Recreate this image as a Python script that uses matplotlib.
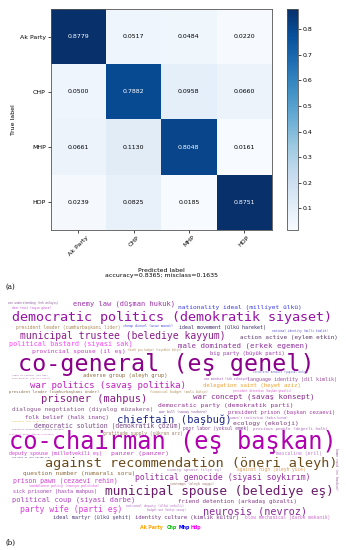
import numpy as np
import matplotlib as mpl
import matplotlib.pyplot as plt

mpl.use('Agg')

# ---------------- data ----------------
classes = ['Ak Party', 'CHP', 'MHP', 'HDP']
cm_row_akp = [0.8779, 0.0517, 0.0484, 0.0220]
cm_row_chp = [0.0500, 0.7882, 0.0958, 0.0660]
cm_row_mhp = [0.0661, 0.1130, 0.8048, 0.0161]
cm_row_hdp = [0.0239, 0.0825, 0.0185, 0.8751]
accuracy = 0.8365
misclass = 0.1635

# word cloud terms, their weight (~ frequency) and party-mix colour
words = [
    'one understanding (tek anlayış)', 'dear trust (sayın güven)', 'enemy law (düşman hukuk)',
    'nationality ideal (milliyet ülkü)', 'democratic politics (demokratik siyaset)',
    'president leader (cumhurbaşkanı lider)', 'cheap diesel (ucuz mazot)',
    'ideal movement (ülkü hareket)', 'national identity (milli kimlik)',
    'municipal trustee (belediye kayyum)', 'action active (eylem etkin)',
    'political bastard (siyasi sak)', 'male dominated (erkek egemen)',
    'provincial spouse (il eş)', 'thank you budget (teşekkür bütçe)', 'big party (büyük parti)',
    'co-general (eş genel)', 'right of refusal (ret hak)', 'good general (hayırlı genel)',
    'adverse group (aleyh grup)', 'structural measure (yapısal önlem)',
    'one mindset (tek zihniyet)', 'language identity (dil kimlik)',
    'war politics (savaş politika)', 'delegation saint (heyet aziz)',
    'president leader (cumhurbaşkanı önder)', 'financial budget (mali bütçe)',
    'president detention (başkan gözaltı)', 'prisoner (mahpus)', 'war concept (savaş konsept)',
    'dialogue negotiation (diyalog müzakere)', 'democratic party (demokratik parti)',
    'war bill (savaş tezkere)', 'president prison (başkan cezaevi)', 'folk belief (halk inanç)',
    'chieftain (başbuğ)', "women's institution (kadın kurum)", 'ecology (ekoloji)',
    'something tiny (ufak şey)', 'education expenditure (eğitim harcama)',
    'president abuse (başkan istismar)',
    'democratic solution (demokratik çözüm)', 'poor labor (yoksul emek)',
    'precious people (değerli halk)', 'gratitude supply (şükran arz)',
    'co-chairman (eş başkan)', 'deputy spouse (milletvekili eş)', 'panzer (panzer)',
    'masculine (eril)', 'one word in (tek kelime ile)', 'home raid (ev baskın)',
    'against recommendation (öneri aleyh)', 'question number (numaralı soru)',
    'county spouse (ilçe eş)', 'against high (aleyh yüce)',
    'political genocide (siyasi soykırım)', 'prison pawn (cezaevi rehin)',
    'contempt (aleyh saygı)', 'condolence policy (taziye politika)',
    'municipal spouse (belediye eş)', 'sick prisoner (hasta mahpus)',
    'political coup (siyasi darbe)', 'friend detention (arkadaş gözaltı)',
    'national deputy (ülkü vekili)', 'budget war (bütçe savaş)', 'party wife (parti eş)',
    'neurosis (nevroz)', 'ideal martyr (ülkü şehit)', 'identity culture (kimlik kültür)',
    'blow mechanical (darbe mekanik)',
]
word_weight = [
    2.0, 2.0, 5.0, 4.5, 9.6, 3.3, 2.4, 3.6, 2.2, 7.0, 4.3, 4.9, 5.3, 4.5, 1.9, 4.0,
    16.8, 1.6, 1.6, 3.9, 2.0, 2.1, 3.6, 6.5, 4.1, 2.9, 2.3, 2.0, 7.5, 5.4,
    4.3, 4.6, 2.4, 4.0, 4.2, 7.6, 2.2, 4.6, 1.6, 1.6, 1.6,
    4.7, 3.3, 3.1, 3.3, 17.0, 3.6, 4.6, 3.4, 1.6, 2.4,
    9.7, 4.3, 2.9, 3.3, 5.9, 4.7, 2.4, 2.4, 9.2, 3.6, 5.0, 4.2, 2.3, 2.0, 5.9,
    7.3, 3.7, 4.0, 3.3,
]
word_color = [
    '#8a5a9a', '#c050d0', '#a030b0', '#3a3ae0', '#9a10a8', '#a88a5a', '#4a4ae0',
    '#3a2a6a', '#5a5ad0', '#8b1a8b', '#5a3a6a', '#ff40ff', '#9030a0', '#c040c0',
    '#b09060', '#a040b0', '#8b008b', '#8a5a9a', '#b070a0', '#8b6a3a', '#6a6ad0',
    '#a050c0', '#a050a0', '#c020c0', '#f0a030', '#8b7050', '#b09060', '#e060d0',
    '#8b1a8b', '#8b2a8b', '#8a5a8a', '#903090', '#8a4a9a', '#a040a0', '#9040a0',
    '#1e2a8a', '#b070c0', '#7a3a7a', '#e0c040', '#8a5a9a', '#d050d0',
    '#7a4a8a', '#8a4a9a', '#b070c0', '#a08060', '#b000b0', '#d040d0', '#c040c0',
    '#c080d0', '#3a3a9a', '#9a5a9a',
    '#6b4a1a', '#8b6a3a', '#b080c0', '#e0a060', '#9a30a0', '#d040d0', '#a07a70',
    '#e050e0', '#6b1a6b', '#a040b0', '#b040c0', '#8a3a8a', '#b070c0', '#b070c0',
    '#e040e0', '#8a2a9a', '#4a3a7a', '#7a3a8a', '#d070d0',
]
legend_names = ['Ak Party', 'Chp', 'Mhp', 'Hdp']
legend_colors = ['#ffa500', '#00c000', '#0000ff', '#ff00ff']

# word cloud layout (left x, centre y in figure pixels; rotation)
word_layout = [
    (8, 303, 0), (12, 308, 0), (73, 304, 0), (178, 307, 0), (12, 318, 0),
    (16, 327, 0), (123, 326, 0), (179, 327, 0), (272, 331, 0), (20, 336, 0),
    (240, 337, 0), (9, 344, 0), (178, 346, 0), (32, 352, 0), (128, 350, 0),
    (210, 353, 0), (18, 364, 0), (12, 375, 0), (12, 378, 0), (83, 376, 0),
    (253, 372, 0), (204, 379, 0), (247, 379, 0), (30, 385, 0), (203, 385, 0),
    (9, 392.5, 0), (150, 392.5, 0), (233, 391, 0), (41, 399, 0), (193, 397, 0),
    (12, 409, 0), (158, 406, 0), (159, 412, 0), (228, 412.5, 0), (25, 418, 0),
    (117, 420, 0), (230, 418, 0), (233, 423.5, 0), (12, 421, 0), (12, 429, 0),
    (9, 434, 0), (34, 425.5, 0), (183, 428.5, 0), (253, 429, 0), (103, 434, 0),
    (9, 442, 0), (9, 453, 0), (111, 453, 0), (276, 453, 0), (12, 457, 0),
    (336, 469, 90), (45, 463, 0), (23, 473, 0), (167, 470, 0), (237, 470, 0),
    (135, 478, 0), (13, 481, 0), (170, 484, 0), (29, 486, 0), (105, 491, 0),
    (13, 491, 0), (12, 500, 0), (178, 501, 0), (126, 506, 0), (147, 510, 0),
    (20, 510, 0), (203, 511, 0), (53, 517, 0), (135, 517, 0), (245, 518, 0),
]

# ---------------- figure ----------------
fig = plt.figure(figsize=(3.46, 5.5), dpi=100)
fs = 4.5

cm = np.array([cm_row_akp, cm_row_chp, cm_row_mhp, cm_row_hdp])
ax = fig.add_axes([50.7 / 346, 1 - 230 / 550, 221 / 346, 221 / 550])
im = ax.imshow(cm, interpolation='nearest', cmap=plt.get_cmap('Blues'), aspect='auto')
thresh = cm.max() / 1.5
for i in range(cm.shape[0]):
    for j in range(cm.shape[1]):
        ax.text(j, i, "{:0.4f}".format(cm[i, j]), ha='center', va='center', fontsize=fs,
                color='white' if cm[i, j] > thresh else 'black')
ax.set_xticks(np.arange(len(classes)))
ax.set_xticklabels(classes, rotation=45, fontsize=fs)
ax.set_yticks(np.arange(len(classes)))
ax.set_yticklabels(classes, fontsize=fs)
ax.tick_params(length=2, width=0.5, pad=1.5)
ax.set_ylabel('True label', fontsize=fs, labelpad=3)
ax.set_xlabel('Predicted label\naccuracy={:0.4f}; misclass={:0.4f}'.format(accuracy, misclass),
              fontsize=fs, labelpad=8, linespacing=1.0)
for s in ax.spines.values():
    s.set_linewidth(0.6)
    s.set_color('#555555')

cax = fig.add_axes([287 / 346, 1 - 230 / 550, 11 / 346, 221 / 550])
cb = fig.colorbar(im, cax=cax, ticks=[0.1, 0.2, 0.3, 0.4, 0.5, 0.6, 0.7, 0.8])
cb.ax.tick_params(labelsize=fs, length=2, width=0.5, pad=1.5)
cb.outline.set_linewidth(0.6)
cb.outline.set_edgecolor('#555555')

# overlay in pixel coordinates for the word cloud and panel labels
ov = fig.add_axes([0, 0, 1, 1])
ov.set_xlim(0, 346)
ov.set_ylim(550, 0)
ov.axis('off')
ov.patch.set_alpha(0)

ov.text(5, 287, '(a)', fontsize=5, va='center', ha='left', family='DejaVu Serif')
ov.text(5, 543, '(b)', fontsize=5, va='center', ha='left', family='DejaVu Serif')

for w, wt, c, (x, y, rot) in zip(words, word_weight, word_color, word_layout):
    if rot:
        ov.text(x, y, w, fontsize=wt, color=c, family='DejaVu Sans Mono',
                rotation=-90, ha='center', va='center')
    else:
        ov.text(x, y, w, fontsize=wt, color=c, family='DejaVu Sans Mono',
                ha='left', va='center')

# legend line of party colours
lx = 140
for name, col in zip(legend_names, legend_colors):
    ov.text(lx, 527, name, fontsize=3.4, color=col, fontweight='bold',
            ha='left', va='center')
    lx += len(name) * 3.0 + 3

fig.savefig('out.png', dpi=100)
